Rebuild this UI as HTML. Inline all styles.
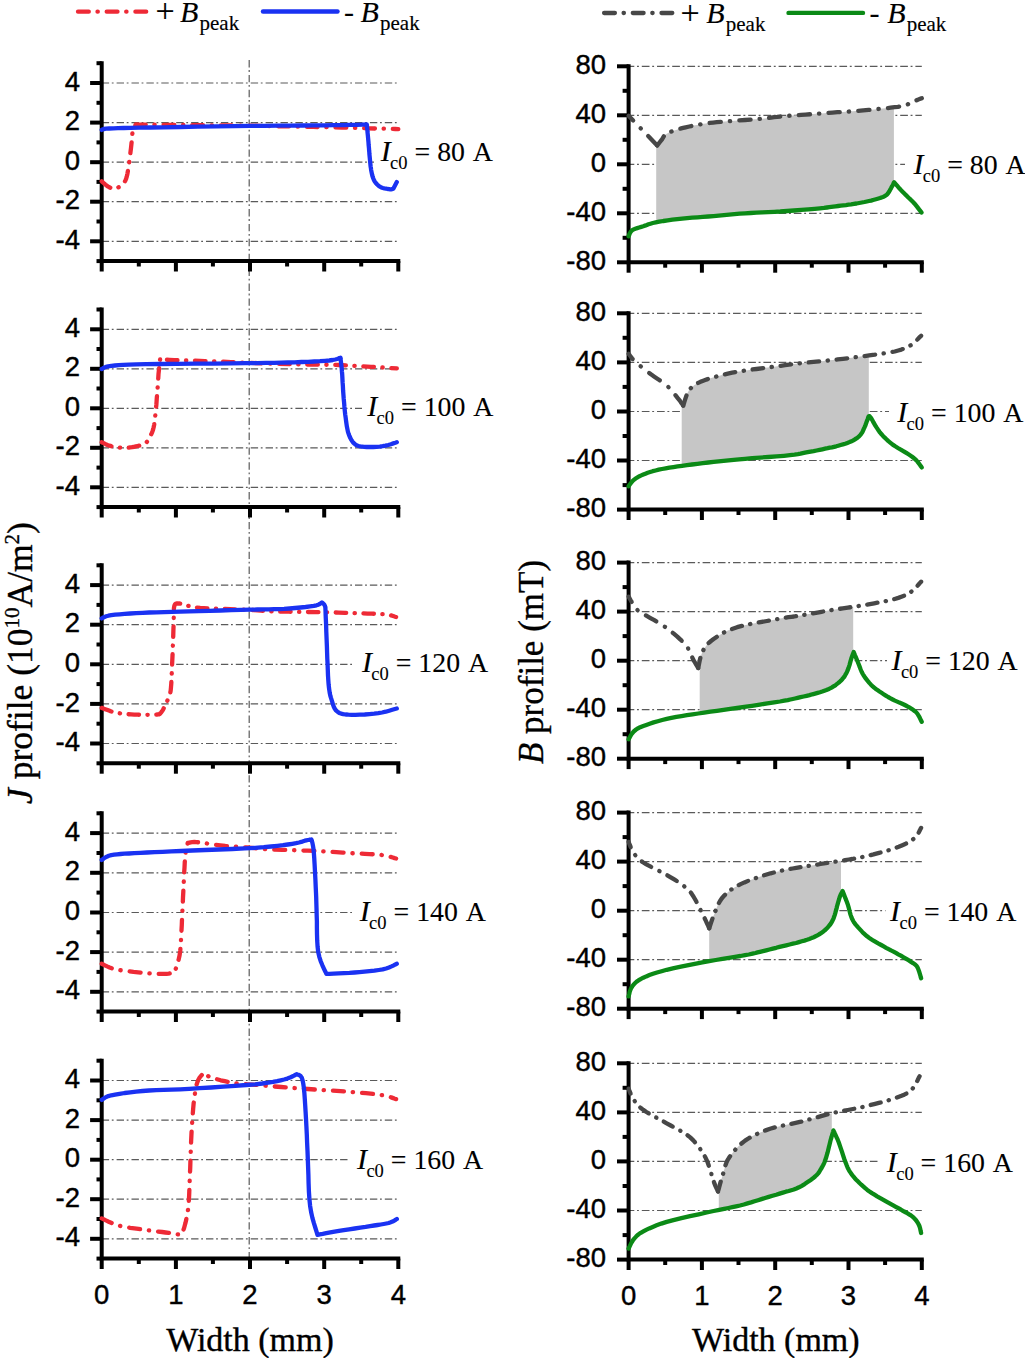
<!DOCTYPE html>
<html><head><meta charset="utf-8"><title>J and B profiles</title>
<style>html,body{margin:0;padding:0;background:#fff;width:1025px;height:1358px;overflow:hidden}svg{display:block}</style>
</head><body>
<svg width="1025" height="1358" viewBox="0 0 1025 1358">
<rect width="1025" height="1358" fill="#fff"/>
<g stroke="#5a5a5a" stroke-width="1.2" stroke-dasharray="7.4 2.7 1.8 3.0" fill="none">
<line x1="249.2" y1="60" x2="249.2" y2="1257"/>
<line x1="101.7" y1="83.0" x2="398.3" y2="83.0"/>
<line x1="101.7" y1="122.6" x2="398.3" y2="122.6"/>
<line x1="101.7" y1="162.2" x2="398.3" y2="162.2"/>
<line x1="101.7" y1="201.7" x2="398.3" y2="201.7"/>
<line x1="101.7" y1="241.3" x2="398.3" y2="241.3"/>
<line x1="101.7" y1="329.3" x2="398.3" y2="329.3"/>
<line x1="101.7" y1="368.8" x2="398.3" y2="368.8"/>
<line x1="101.7" y1="408.3" x2="398.3" y2="408.3"/>
<line x1="101.7" y1="447.8" x2="398.3" y2="447.8"/>
<line x1="101.7" y1="487.3" x2="398.3" y2="487.3"/>
<line x1="101.7" y1="585.1" x2="398.3" y2="585.1"/>
<line x1="101.7" y1="624.7" x2="398.3" y2="624.7"/>
<line x1="101.7" y1="664.3" x2="398.3" y2="664.3"/>
<line x1="101.7" y1="703.9" x2="398.3" y2="703.9"/>
<line x1="101.7" y1="743.5" x2="398.3" y2="743.5"/>
<line x1="101.7" y1="833.1" x2="398.3" y2="833.1"/>
<line x1="101.7" y1="872.8" x2="398.3" y2="872.8"/>
<line x1="101.7" y1="912.5" x2="398.3" y2="912.5"/>
<line x1="101.7" y1="952.1" x2="398.3" y2="952.1"/>
<line x1="101.7" y1="991.8" x2="398.3" y2="991.8"/>
<line x1="101.7" y1="1080.5" x2="398.3" y2="1080.5"/>
<line x1="101.7" y1="1120.1" x2="398.3" y2="1120.1"/>
<line x1="101.7" y1="1159.7" x2="398.3" y2="1159.7"/>
<line x1="101.7" y1="1199.2" x2="398.3" y2="1199.2"/>
<line x1="101.7" y1="1238.8" x2="398.3" y2="1238.8"/>
</g>
<g stroke="#5a5a5a" stroke-width="1.2" stroke-dasharray="7.7 2.7 1.9 2.9" fill="none">
<line x1="626.6" y1="66.3" x2="921.8" y2="66.3"/>
<line x1="626.6" y1="115.3" x2="921.8" y2="115.3"/>
<line x1="626.6" y1="164.3" x2="921.8" y2="164.3"/>
<line x1="626.6" y1="213.3" x2="921.8" y2="213.3"/>
<line x1="626.6" y1="313.3" x2="921.8" y2="313.3"/>
<line x1="626.6" y1="362.4" x2="921.8" y2="362.4"/>
<line x1="626.6" y1="411.5" x2="921.8" y2="411.5"/>
<line x1="626.6" y1="460.5" x2="921.8" y2="460.5"/>
<line x1="626.6" y1="562.6" x2="921.8" y2="562.6"/>
<line x1="626.6" y1="611.6" x2="921.8" y2="611.6"/>
<line x1="626.6" y1="660.7" x2="921.8" y2="660.7"/>
<line x1="626.6" y1="709.7" x2="921.8" y2="709.7"/>
<line x1="626.6" y1="812.6" x2="921.8" y2="812.6"/>
<line x1="626.6" y1="861.6" x2="921.8" y2="861.6"/>
<line x1="626.6" y1="910.7" x2="921.8" y2="910.7"/>
<line x1="626.6" y1="959.7" x2="921.8" y2="959.7"/>
<line x1="626.6" y1="1063.3" x2="921.8" y2="1063.3"/>
<line x1="626.6" y1="1112.4" x2="921.8" y2="1112.4"/>
<line x1="626.6" y1="1161.4" x2="921.8" y2="1161.4"/>
<line x1="626.6" y1="1210.5" x2="921.8" y2="1210.5"/>
</g>
<path d="M656.2,144.4 L657.2,145.4 L657.7,144.8 L658.3,144.0 L659.1,143.1 L659.9,142.0 L660.8,140.9 L661.6,139.9 L662.3,138.9 L662.9,137.9 L663.5,136.8 L664.2,135.7 L665.3,134.7 L666.7,133.7 L668.6,132.7 L670.8,131.8 L673.3,130.8 L676.0,129.9 L679.0,129.0 L682.1,128.2 L685.6,127.3 L689.3,126.5 L693.3,125.6 L697.4,124.9 L701.6,124.1 L705.6,123.5 L709.4,123.0 L713.1,122.6 L716.8,122.2 L720.6,121.9 L724.6,121.5 L729.0,121.2 L733.9,120.8 L739.4,120.4 L745.0,120.0 L750.6,119.6 L755.9,119.2 L760.5,118.9 L764.5,118.5 L768.0,118.0 L771.1,117.6 L774.1,117.2 L777.1,116.9 L780.3,116.5 L783.6,116.2 L786.7,116.0 L789.9,115.7 L793.2,115.5 L796.8,115.2 L800.9,114.9 L805.5,114.6 L810.6,114.2 L816.0,113.8 L821.5,113.4 L827.0,113.0 L832.4,112.6 L837.5,112.2 L842.7,111.9 L847.8,111.6 L852.9,111.2 L858.0,110.8 L863.2,110.4 L868.6,109.9 L874.3,109.4 L880.1,108.8 L885.6,108.3 L890.5,107.7 L893.9,107.3 L893.9,182.6 L893.7,183.0 L893.2,184.2 L892.5,185.5 L891.7,186.9 L891.0,188.3 L890.3,189.5 L889.7,190.6 L889.1,191.6 L888.6,192.5 L888.0,193.4 L887.3,194.3 L886.4,195.0 L885.4,195.7 L884.2,196.4 L882.9,196.9 L881.5,197.4 L880.1,198.0 L878.5,198.5 L876.8,199.0 L875.0,199.5 L873.1,200.0 L871.1,200.6 L869.0,201.0 L866.8,201.5 L864.5,202.0 L861.9,202.5 L859.3,203.0 L856.6,203.5 L853.9,203.9 L851.2,204.4 L848.6,204.7 L846.0,205.1 L843.4,205.4 L840.8,205.7 L838.2,206.0 L835.6,206.3 L833.3,206.6 L831.3,206.9 L829.3,207.2 L827.0,207.5 L824.0,207.9 L820.0,208.3 L814.7,208.8 L808.4,209.3 L801.4,209.9 L794.1,210.5 L787.0,211.0 L780.3,211.5 L774.2,211.8 L768.1,212.1 L762.2,212.4 L756.4,212.7 L750.7,213.0 L745.1,213.3 L739.7,213.7 L734.4,214.2 L729.2,214.7 L724.0,215.2 L718.8,215.7 L713.6,216.1 L708.3,216.5 L702.9,216.9 L697.5,217.3 L692.2,217.7 L687.1,218.1 L682.1,218.6 L677.3,219.1 L672.4,219.7 L667.7,220.4 L663.3,221.0 L659.3,221.7 L656.2,222.3 Z" fill="#c6c6c6"/>
<path d="M681.7,403.5 L682.0,403.8 L682.7,404.8 L683.2,405.6 L683.8,403.9 L684.5,401.5 L685.4,398.6 L686.4,395.7 L687.5,393.0 L688.7,390.7 L690.0,389.0 L691.4,387.5 L692.9,386.2 L694.5,385.0 L696.3,384.0 L698.2,382.9 L700.4,381.8 L702.6,380.9 L705.1,380.0 L707.7,379.1 L710.5,378.2 L713.6,377.3 L716.9,376.4 L720.3,375.5 L723.9,374.6 L727.8,373.7 L732.2,372.7 L737.1,371.8 L742.8,370.9 L749.4,369.9 L756.4,369.0 L763.4,368.1 L770.1,367.2 L775.9,366.4 L780.8,365.8 L785.0,365.2 L788.9,364.7 L792.6,364.2 L796.5,363.7 L800.9,363.2 L805.7,362.7 L810.9,362.2 L816.2,361.7 L821.6,361.2 L827.0,360.6 L832.4,360.0 L837.6,359.4 L842.9,358.8 L848.2,358.2 L853.4,357.5 L858.7,356.8 L863.9,356.1 L868.8,355.5 L868.8,416.3 L868.6,416.5 L868.3,417.2 L868.0,418.1 L867.7,419.2 L867.3,420.2 L866.9,421.1 L866.5,422.2 L866.1,423.4 L865.7,424.6 L865.2,425.9 L864.6,427.2 L864.0,428.4 L863.4,429.8 L862.8,431.2 L862.1,432.6 L861.2,433.9 L860.2,435.1 L859.1,436.3 L857.8,437.4 L856.4,438.4 L854.9,439.4 L853.3,440.4 L851.5,441.3 L849.6,442.1 L847.4,442.9 L845.2,443.7 L842.9,444.4 L840.6,445.0 L838.3,445.7 L836.2,446.3 L834.1,446.8 L832.0,447.3 L829.8,447.7 L827.6,448.2 L825.1,448.7 L822.4,449.3 L819.6,449.9 L816.6,450.5 L813.6,451.1 L810.6,451.6 L807.6,452.2 L805.0,452.7 L802.7,453.2 L800.5,453.7 L797.9,454.2 L794.5,454.7 L790.0,455.2 L784.0,455.8 L776.6,456.4 L768.4,457.0 L760.1,457.6 L752.2,458.2 L745.1,458.8 L739.1,459.3 L733.7,459.8 L728.6,460.3 L723.6,460.8 L718.7,461.3 L713.6,461.9 L708.3,462.5 L702.8,463.1 L697.4,463.8 L692.0,464.5 L686.9,465.1 L682.1,465.8 L681.7,465.9 Z" fill="#c6c6c6"/>
<path d="M699.7,660.7 L699.7,660.5 L700.5,657.3 L701.5,654.2 L702.6,651.5 L703.9,649.1 L705.3,647.0 L706.9,644.9 L708.8,642.9 L711.0,641.0 L713.6,639.0 L716.6,636.9 L719.8,634.9 L723.3,632.8 L727.3,630.8 L731.9,629.0 L737.1,627.2 L743.4,625.5 L750.9,623.9 L758.9,622.4 L766.9,621.0 L774.2,619.7 L780.3,618.6 L784.9,617.8 L788.4,617.2 L791.3,616.8 L794.0,616.5 L797.1,616.0 L800.9,615.4 L805.5,614.6 L810.6,613.7 L816.0,612.8 L821.5,611.8 L827.0,610.8 L832.4,609.9 L837.5,609.1 L842.7,608.4 L847.8,607.6 L852.9,606.9 L853.2,606.8 L853.2,653.4 L853.0,653.9 L852.5,655.1 L852.0,656.5 L851.5,657.9 L851.1,659.3 L850.7,660.7 L850.3,662.1 L849.9,663.6 L849.5,665.1 L849.0,666.6 L848.5,668.1 L847.9,669.6 L847.3,671.1 L846.6,672.7 L845.8,674.1 L845.0,675.6 L844.1,677.0 L843.1,678.2 L842.0,679.5 L840.9,680.7 L839.6,681.8 L838.4,682.9 L837.1,683.9 L835.8,684.9 L834.4,685.9 L833.1,686.7 L831.6,687.6 L830.0,688.4 L828.3,689.2 L826.4,690.0 L824.4,690.7 L822.2,691.5 L820.0,692.2 L817.6,692.9 L815.1,693.6 L812.4,694.3 L809.6,695.1 L806.6,695.8 L803.6,696.5 L800.6,697.2 L797.6,697.9 L795.0,698.5 L792.7,699.0 L790.4,699.5 L787.7,700.1 L784.4,700.7 L780.0,701.5 L774.2,702.4 L767.4,703.4 L759.8,704.6 L752.0,705.8 L744.3,706.9 L737.1,708.0 L730.3,708.9 L723.6,709.9 L716.9,710.8 L710.5,711.7 L704.2,712.6 L699.7,713.3 Z" fill="#c6c6c6"/>
<path d="M709.2,928.3 L709.7,927.0 L710.2,925.2 L710.9,923.1 L711.7,920.7 L712.6,918.2 L713.6,915.7 L714.7,913.0 L715.8,910.1 L717.0,907.1 L718.3,904.1 L719.9,901.2 L721.7,898.5 L723.7,896.1 L726.0,893.9 L728.4,891.7 L731.1,889.7 L734.0,887.8 L737.1,885.9 L740.6,884.1 L744.4,882.4 L748.5,880.7 L752.7,879.2 L756.7,877.8 L760.5,876.5 L764.0,875.3 L767.4,874.3 L770.6,873.3 L773.8,872.5 L777.0,871.7 L780.3,870.9 L783.5,870.2 L786.4,869.6 L789.4,869.1 L792.6,868.5 L796.3,867.9 L800.9,867.1 L806.5,866.2 L813.3,865.2 L820.5,864.0 L827.8,862.9 L834.6,861.8 L840.4,860.9 L841.0,860.8 L841.0,894.1 L840.5,895.1 L840.0,896.3 L839.5,897.7 L839.1,899.2 L838.6,900.8 L838.1,902.5 L837.6,904.3 L837.1,906.0 L836.7,907.8 L836.2,909.6 L835.7,911.5 L835.2,913.4 L834.7,915.1 L834.1,916.8 L833.6,918.3 L833.0,919.6 L832.4,920.9 L831.7,922.1 L831.0,923.3 L830.2,924.5 L829.2,925.7 L828.2,926.9 L827.2,928.0 L826.0,929.2 L824.8,930.3 L823.4,931.4 L822.0,932.4 L820.6,933.4 L819.1,934.4 L817.4,935.4 L815.6,936.3 L813.7,937.2 L811.6,938.1 L809.3,939.0 L807.0,939.8 L804.4,940.6 L801.8,941.3 L799.0,942.1 L796.1,943.0 L792.9,943.7 L789.6,944.5 L786.2,945.3 L782.8,946.1 L779.5,946.9 L776.2,947.8 L772.9,948.6 L769.5,949.5 L766.2,950.3 L763.0,951.1 L760.0,951.8 L757.5,952.4 L755.5,953.0 L753.6,953.4 L751.5,953.9 L748.8,954.5 L745.1,955.1 L740.5,956.0 L735.0,956.8 L728.9,957.8 L722.5,958.8 L715.8,960.0 L709.2,961.1 Z" fill="#c6c6c6"/>
<path d="M718.8,1188.8 L719.3,1186.7 L720.2,1183.4 L721.2,1179.9 L722.2,1176.4 L723.2,1173.4 L724.0,1170.6 L724.7,1168.0 L725.4,1165.5 L726.3,1163.0 L727.4,1160.4 L729.0,1157.8 L731.0,1154.9 L733.3,1152.0 L735.9,1148.9 L738.7,1146.0 L741.8,1143.2 L745.1,1140.6 L748.7,1138.3 L752.6,1136.1 L756.7,1134.1 L761.0,1132.2 L765.5,1130.4 L770.1,1128.8 L774.9,1127.4 L779.9,1126.2 L785.0,1125.1 L790.3,1124.0 L795.6,1122.9 L800.9,1121.7 L806.1,1120.3 L811.3,1118.9 L816.6,1117.4 L821.9,1115.9 L827.2,1114.4 L831.8,1113.3 L831.8,1136.1 L831.4,1137.5 L830.7,1139.8 L830.1,1142.2 L829.5,1144.7 L828.8,1147.5 L828.1,1150.4 L827.4,1153.2 L826.6,1155.9 L825.9,1158.3 L825.2,1160.3 L824.6,1162.0 L823.9,1163.6 L823.2,1165.0 L822.4,1166.5 L821.6,1168.0 L820.7,1169.4 L819.9,1170.8 L819.1,1172.2 L818.0,1173.6 L816.7,1175.0 L815.1,1176.5 L813.0,1178.3 L810.4,1180.2 L807.6,1182.1 L804.7,1184.1 L801.8,1185.8 L799.0,1187.3 L796.4,1188.5 L793.8,1189.5 L791.3,1190.2 L788.7,1191.0 L785.9,1191.7 L782.9,1192.6 L779.6,1193.6 L776.2,1194.7 L772.5,1195.8 L768.8,1196.9 L765.1,1198.0 L761.5,1199.1 L758.0,1200.2 L754.5,1201.3 L751.1,1202.4 L747.5,1203.4 L743.9,1204.5 L740.0,1205.5 L736.1,1206.4 L732.3,1207.2 L728.4,1208.0 L724.1,1208.8 L719.3,1209.8 L718.8,1209.9 Z" fill="#c6c6c6"/>
<rect x="374.0" y="136.7" width="124.0" height="33.0" fill="#fff"/>
<rect x="905.0" y="150.0" width="120.0" height="33.0" fill="#fff"/>
<rect x="362.0" y="392.4" width="136.0" height="33.0" fill="#fff"/>
<rect x="889.0" y="398.2" width="136.0" height="33.0" fill="#fff"/>
<rect x="354.3" y="647.5" width="143.7" height="33.0" fill="#fff"/>
<rect x="887.0" y="646.4" width="138.0" height="33.0" fill="#fff"/>
<rect x="354.3" y="897.0" width="143.7" height="33.0" fill="#fff"/>
<rect x="885.5" y="897.1" width="139.5" height="33.0" fill="#fff"/>
<rect x="349.6" y="1144.7" width="148.4" height="33.0" fill="#fff"/>
<rect x="879.3" y="1147.8" width="145.7" height="33.0" fill="#fff"/>
<g stroke="#000" stroke-width="4.0" fill="none" stroke-linecap="square">
<path d="M101.7,63.2 V261.1 M101.7,261.1 H398.3"/>
<path d="M96.5,261.1 H101.7" stroke-linecap="butt"/>
<path d="M90.1,241.3 H101.7" stroke-linecap="butt"/>
<path d="M96.5,221.5 H101.7" stroke-linecap="butt"/>
<path d="M90.1,201.7 H101.7" stroke-linecap="butt"/>
<path d="M96.5,181.9 H101.7" stroke-linecap="butt"/>
<path d="M90.1,162.2 H101.7" stroke-linecap="butt"/>
<path d="M96.5,142.4 H101.7" stroke-linecap="butt"/>
<path d="M90.1,122.6 H101.7" stroke-linecap="butt"/>
<path d="M96.5,102.8 H101.7" stroke-linecap="butt"/>
<path d="M90.1,83.0 H101.7" stroke-linecap="butt"/>
<path d="M96.5,63.2 H101.7" stroke-linecap="butt"/>
<path d="M101.7,261.1 V271.5" stroke-linecap="butt"/>
<path d="M138.8,261.1 V266.5" stroke-linecap="butt"/>
<path d="M175.9,261.1 V271.5" stroke-linecap="butt"/>
<path d="M212.9,261.1 V266.5" stroke-linecap="butt"/>
<path d="M250.0,261.1 V271.5" stroke-linecap="butt"/>
<path d="M287.1,261.1 V266.5" stroke-linecap="butt"/>
<path d="M324.2,261.1 V271.5" stroke-linecap="butt"/>
<path d="M361.2,261.1 V266.5" stroke-linecap="butt"/>
<path d="M398.3,261.1 V271.5" stroke-linecap="butt"/>
<path d="M101.7,309.5 V507.1 M101.7,507.1 H398.3"/>
<path d="M96.5,507.1 H101.7" stroke-linecap="butt"/>
<path d="M90.1,487.3 H101.7" stroke-linecap="butt"/>
<path d="M96.5,467.6 H101.7" stroke-linecap="butt"/>
<path d="M90.1,447.8 H101.7" stroke-linecap="butt"/>
<path d="M96.5,428.1 H101.7" stroke-linecap="butt"/>
<path d="M90.1,408.3 H101.7" stroke-linecap="butt"/>
<path d="M96.5,388.5 H101.7" stroke-linecap="butt"/>
<path d="M90.1,368.8 H101.7" stroke-linecap="butt"/>
<path d="M96.5,349.0 H101.7" stroke-linecap="butt"/>
<path d="M90.1,329.3 H101.7" stroke-linecap="butt"/>
<path d="M96.5,309.5 H101.7" stroke-linecap="butt"/>
<path d="M101.7,507.1 V517.5" stroke-linecap="butt"/>
<path d="M138.8,507.1 V512.5" stroke-linecap="butt"/>
<path d="M175.9,507.1 V517.5" stroke-linecap="butt"/>
<path d="M212.9,507.1 V512.5" stroke-linecap="butt"/>
<path d="M250.0,507.1 V517.5" stroke-linecap="butt"/>
<path d="M287.1,507.1 V512.5" stroke-linecap="butt"/>
<path d="M324.2,507.1 V517.5" stroke-linecap="butt"/>
<path d="M361.2,507.1 V512.5" stroke-linecap="butt"/>
<path d="M398.3,507.1 V517.5" stroke-linecap="butt"/>
<path d="M101.7,565.3 V763.3 M101.7,763.3 H398.3"/>
<path d="M96.5,763.3 H101.7" stroke-linecap="butt"/>
<path d="M90.1,743.5 H101.7" stroke-linecap="butt"/>
<path d="M96.5,723.7 H101.7" stroke-linecap="butt"/>
<path d="M90.1,703.9 H101.7" stroke-linecap="butt"/>
<path d="M96.5,684.1 H101.7" stroke-linecap="butt"/>
<path d="M90.1,664.3 H101.7" stroke-linecap="butt"/>
<path d="M96.5,644.5 H101.7" stroke-linecap="butt"/>
<path d="M90.1,624.7 H101.7" stroke-linecap="butt"/>
<path d="M96.5,604.9 H101.7" stroke-linecap="butt"/>
<path d="M90.1,585.1 H101.7" stroke-linecap="butt"/>
<path d="M96.5,565.3 H101.7" stroke-linecap="butt"/>
<path d="M101.7,763.3 V773.7" stroke-linecap="butt"/>
<path d="M138.8,763.3 V768.7" stroke-linecap="butt"/>
<path d="M175.9,763.3 V773.7" stroke-linecap="butt"/>
<path d="M212.9,763.3 V768.7" stroke-linecap="butt"/>
<path d="M250.0,763.3 V773.7" stroke-linecap="butt"/>
<path d="M287.1,763.3 V768.7" stroke-linecap="butt"/>
<path d="M324.2,763.3 V773.7" stroke-linecap="butt"/>
<path d="M361.2,763.3 V768.7" stroke-linecap="butt"/>
<path d="M398.3,763.3 V773.7" stroke-linecap="butt"/>
<path d="M101.7,813.3 V1011.6 M101.7,1011.6 H398.3"/>
<path d="M96.5,1011.6 H101.7" stroke-linecap="butt"/>
<path d="M90.1,991.8 H101.7" stroke-linecap="butt"/>
<path d="M96.5,971.9 H101.7" stroke-linecap="butt"/>
<path d="M90.1,952.1 H101.7" stroke-linecap="butt"/>
<path d="M96.5,932.3 H101.7" stroke-linecap="butt"/>
<path d="M90.1,912.5 H101.7" stroke-linecap="butt"/>
<path d="M96.5,892.6 H101.7" stroke-linecap="butt"/>
<path d="M90.1,872.8 H101.7" stroke-linecap="butt"/>
<path d="M96.5,853.0 H101.7" stroke-linecap="butt"/>
<path d="M90.1,833.1 H101.7" stroke-linecap="butt"/>
<path d="M96.5,813.3 H101.7" stroke-linecap="butt"/>
<path d="M101.7,1011.6 V1022.0" stroke-linecap="butt"/>
<path d="M138.8,1011.6 V1017.0" stroke-linecap="butt"/>
<path d="M175.9,1011.6 V1022.0" stroke-linecap="butt"/>
<path d="M212.9,1011.6 V1017.0" stroke-linecap="butt"/>
<path d="M250.0,1011.6 V1022.0" stroke-linecap="butt"/>
<path d="M287.1,1011.6 V1017.0" stroke-linecap="butt"/>
<path d="M324.2,1011.6 V1022.0" stroke-linecap="butt"/>
<path d="M361.2,1011.6 V1017.0" stroke-linecap="butt"/>
<path d="M398.3,1011.6 V1022.0" stroke-linecap="butt"/>
<path d="M101.7,1060.7 V1258.6 M101.7,1258.6 H398.3"/>
<path d="M96.5,1258.6 H101.7" stroke-linecap="butt"/>
<path d="M90.1,1238.8 H101.7" stroke-linecap="butt"/>
<path d="M96.5,1219.0 H101.7" stroke-linecap="butt"/>
<path d="M90.1,1199.2 H101.7" stroke-linecap="butt"/>
<path d="M96.5,1179.4 H101.7" stroke-linecap="butt"/>
<path d="M90.1,1159.7 H101.7" stroke-linecap="butt"/>
<path d="M96.5,1139.9 H101.7" stroke-linecap="butt"/>
<path d="M90.1,1120.1 H101.7" stroke-linecap="butt"/>
<path d="M96.5,1100.3 H101.7" stroke-linecap="butt"/>
<path d="M90.1,1080.5 H101.7" stroke-linecap="butt"/>
<path d="M96.5,1060.7 H101.7" stroke-linecap="butt"/>
<path d="M101.7,1258.6 V1269.0" stroke-linecap="butt"/>
<path d="M138.8,1258.6 V1264.0" stroke-linecap="butt"/>
<path d="M175.9,1258.6 V1269.0" stroke-linecap="butt"/>
<path d="M212.9,1258.6 V1264.0" stroke-linecap="butt"/>
<path d="M250.0,1258.6 V1269.0" stroke-linecap="butt"/>
<path d="M287.1,1258.6 V1264.0" stroke-linecap="butt"/>
<path d="M324.2,1258.6 V1269.0" stroke-linecap="butt"/>
<path d="M361.2,1258.6 V1264.0" stroke-linecap="butt"/>
<path d="M398.3,1258.6 V1269.0" stroke-linecap="butt"/>
<path d="M628.6,66.3 V262.3 M628.6,262.3 H921.8"/>
<path d="M617.0,262.3 H628.6" stroke-linecap="butt"/>
<path d="M622.6,237.8 H628.6" stroke-linecap="butt"/>
<path d="M617.0,213.3 H628.6" stroke-linecap="butt"/>
<path d="M622.6,188.8 H628.6" stroke-linecap="butt"/>
<path d="M617.0,164.3 H628.6" stroke-linecap="butt"/>
<path d="M622.6,139.8 H628.6" stroke-linecap="butt"/>
<path d="M617.0,115.3 H628.6" stroke-linecap="butt"/>
<path d="M622.6,90.8 H628.6" stroke-linecap="butt"/>
<path d="M617.0,66.3 H628.6" stroke-linecap="butt"/>
<path d="M628.6,262.3 V272.7" stroke-linecap="butt"/>
<path d="M665.2,262.3 V267.7" stroke-linecap="butt"/>
<path d="M701.9,262.3 V272.7" stroke-linecap="butt"/>
<path d="M738.5,262.3 V267.7" stroke-linecap="butt"/>
<path d="M775.2,262.3 V272.7" stroke-linecap="butt"/>
<path d="M811.8,262.3 V267.7" stroke-linecap="butt"/>
<path d="M848.5,262.3 V272.7" stroke-linecap="butt"/>
<path d="M885.1,262.3 V267.7" stroke-linecap="butt"/>
<path d="M921.8,262.3 V272.7" stroke-linecap="butt"/>
<path d="M628.6,313.3 V509.6 M628.6,509.6 H921.8"/>
<path d="M617.0,509.6 H628.6" stroke-linecap="butt"/>
<path d="M622.6,485.1 H628.6" stroke-linecap="butt"/>
<path d="M617.0,460.5 H628.6" stroke-linecap="butt"/>
<path d="M622.6,436.0 H628.6" stroke-linecap="butt"/>
<path d="M617.0,411.5 H628.6" stroke-linecap="butt"/>
<path d="M622.6,386.9 H628.6" stroke-linecap="butt"/>
<path d="M617.0,362.4 H628.6" stroke-linecap="butt"/>
<path d="M622.6,337.8 H628.6" stroke-linecap="butt"/>
<path d="M617.0,313.3 H628.6" stroke-linecap="butt"/>
<path d="M628.6,509.6 V520.0" stroke-linecap="butt"/>
<path d="M665.2,509.6 V515.0" stroke-linecap="butt"/>
<path d="M701.9,509.6 V520.0" stroke-linecap="butt"/>
<path d="M738.5,509.6 V515.0" stroke-linecap="butt"/>
<path d="M775.2,509.6 V520.0" stroke-linecap="butt"/>
<path d="M811.8,509.6 V515.0" stroke-linecap="butt"/>
<path d="M848.5,509.6 V520.0" stroke-linecap="butt"/>
<path d="M885.1,509.6 V515.0" stroke-linecap="butt"/>
<path d="M921.8,509.6 V520.0" stroke-linecap="butt"/>
<path d="M628.6,562.6 V758.7 M628.6,758.7 H921.8"/>
<path d="M617.0,758.7 H628.6" stroke-linecap="butt"/>
<path d="M622.6,734.2 H628.6" stroke-linecap="butt"/>
<path d="M617.0,709.7 H628.6" stroke-linecap="butt"/>
<path d="M622.6,685.2 H628.6" stroke-linecap="butt"/>
<path d="M617.0,660.7 H628.6" stroke-linecap="butt"/>
<path d="M622.6,636.1 H628.6" stroke-linecap="butt"/>
<path d="M617.0,611.6 H628.6" stroke-linecap="butt"/>
<path d="M622.6,587.1 H628.6" stroke-linecap="butt"/>
<path d="M617.0,562.6 H628.6" stroke-linecap="butt"/>
<path d="M628.6,758.7 V769.1" stroke-linecap="butt"/>
<path d="M665.2,758.7 V764.1" stroke-linecap="butt"/>
<path d="M701.9,758.7 V769.1" stroke-linecap="butt"/>
<path d="M738.5,758.7 V764.1" stroke-linecap="butt"/>
<path d="M775.2,758.7 V769.1" stroke-linecap="butt"/>
<path d="M811.8,758.7 V764.1" stroke-linecap="butt"/>
<path d="M848.5,758.7 V769.1" stroke-linecap="butt"/>
<path d="M885.1,758.7 V764.1" stroke-linecap="butt"/>
<path d="M921.8,758.7 V769.1" stroke-linecap="butt"/>
<path d="M628.6,812.6 V1008.7 M628.6,1008.7 H921.8"/>
<path d="M617.0,1008.7 H628.6" stroke-linecap="butt"/>
<path d="M622.6,984.2 H628.6" stroke-linecap="butt"/>
<path d="M617.0,959.7 H628.6" stroke-linecap="butt"/>
<path d="M622.6,935.2 H628.6" stroke-linecap="butt"/>
<path d="M617.0,910.7 H628.6" stroke-linecap="butt"/>
<path d="M622.6,886.1 H628.6" stroke-linecap="butt"/>
<path d="M617.0,861.6 H628.6" stroke-linecap="butt"/>
<path d="M622.6,837.1 H628.6" stroke-linecap="butt"/>
<path d="M617.0,812.6 H628.6" stroke-linecap="butt"/>
<path d="M628.6,1008.7 V1019.1" stroke-linecap="butt"/>
<path d="M665.2,1008.7 V1014.1" stroke-linecap="butt"/>
<path d="M701.9,1008.7 V1019.1" stroke-linecap="butt"/>
<path d="M738.5,1008.7 V1014.1" stroke-linecap="butt"/>
<path d="M775.2,1008.7 V1019.1" stroke-linecap="butt"/>
<path d="M811.8,1008.7 V1014.1" stroke-linecap="butt"/>
<path d="M848.5,1008.7 V1019.1" stroke-linecap="butt"/>
<path d="M885.1,1008.7 V1014.1" stroke-linecap="butt"/>
<path d="M921.8,1008.7 V1019.1" stroke-linecap="butt"/>
<path d="M628.6,1063.3 V1259.6 M628.6,1259.6 H921.8"/>
<path d="M617.0,1259.6 H628.6" stroke-linecap="butt"/>
<path d="M622.6,1235.1 H628.6" stroke-linecap="butt"/>
<path d="M617.0,1210.5 H628.6" stroke-linecap="butt"/>
<path d="M622.6,1186.0 H628.6" stroke-linecap="butt"/>
<path d="M617.0,1161.4 H628.6" stroke-linecap="butt"/>
<path d="M622.6,1136.9 H628.6" stroke-linecap="butt"/>
<path d="M617.0,1112.4 H628.6" stroke-linecap="butt"/>
<path d="M622.6,1087.8 H628.6" stroke-linecap="butt"/>
<path d="M617.0,1063.3 H628.6" stroke-linecap="butt"/>
<path d="M628.6,1259.6 V1270.0" stroke-linecap="butt"/>
<path d="M665.2,1259.6 V1265.0" stroke-linecap="butt"/>
<path d="M701.9,1259.6 V1270.0" stroke-linecap="butt"/>
<path d="M738.5,1259.6 V1265.0" stroke-linecap="butt"/>
<path d="M775.2,1259.6 V1270.0" stroke-linecap="butt"/>
<path d="M811.8,1259.6 V1265.0" stroke-linecap="butt"/>
<path d="M848.5,1259.6 V1270.0" stroke-linecap="butt"/>
<path d="M885.1,1259.6 V1265.0" stroke-linecap="butt"/>
<path d="M921.8,1259.6 V1270.0" stroke-linecap="butt"/>
</g>
<path d="M101.7,181.3 L102.3,181.9 L103.2,182.7 L104.3,183.6 L105.4,184.6 L106.6,185.5 L107.6,186.3 L108.7,186.9 L109.8,187.5 L111.0,188.0 L112.0,188.4 L112.9,188.8 L113.6,189.1 L114.3,188.8 L115.3,188.5 L116.6,188.1 L117.9,187.6 L119.1,187.0 L120.2,186.3 L121.2,185.6 L122.2,184.8 L123.1,183.9 L123.9,182.9 L124.7,181.7 L125.4,180.4 L126.1,178.8 L126.6,177.2 L127.1,175.3 L127.5,173.3 L127.9,170.9 L128.4,168.1 L128.9,164.7 L129.4,160.7 L130.0,156.3 L130.5,151.9 L131.0,147.9 L131.4,144.3 L131.7,141.4 L131.9,138.7 L132.1,136.3 L132.3,134.2 L132.5,132.2 L132.8,130.5 L133.3,129.0 L133.8,127.7 L134.4,126.7 L135.0,125.8 L135.5,125.1 L135.8,124.5 L139.8,124.6 L144.9,124.6 L151.2,124.7 L158.5,124.8 L166.7,124.9 L175.9,124.9 L186.2,125.0 L198.0,125.2 L210.8,125.3 L224.0,125.4 L237.2,125.6 L250.0,125.7 L262.7,125.9 L275.8,126.2 L288.9,126.4 L301.6,126.7 L313.5,126.9 L324.2,127.1 L333.5,127.3 L341.7,127.5 L349.2,127.8 L356.0,127.9 L362.4,128.1 L368.6,128.3 L374.8,128.5 L380.7,128.6 L386.3,128.8 L391.2,128.9 L395.2,129.0 L398.3,129.1" fill="none" stroke="#ee2a36" stroke-width="4.3" stroke-dasharray="10.78 8.69 0.30 8.89" stroke-linecap="round" stroke-linejoin="round"/>
<path d="M101.7,129.9 L102.1,129.7 L102.4,129.5 L102.9,129.3 L103.9,129.0 L105.9,128.7 L109.1,128.5 L113.3,128.3 L118.0,128.2 L123.7,128.0 L130.7,127.9 L139.3,127.7 L149.9,127.5 L163.4,127.3 L179.8,127.0 L197.9,126.7 L216.4,126.4 L234.1,126.1 L250.0,125.9 L264.2,125.8 L277.8,125.7 L290.7,125.6 L302.7,125.5 L313.9,125.4 L324.2,125.3 L333.6,125.2 L342.3,125.1 L350.1,124.9 L356.9,124.8 L362.5,124.6 L366.8,124.5 L366.9,125.3 L367.0,126.3 L367.1,127.5 L367.2,128.9 L367.4,130.4 L367.5,132.1 L367.7,133.9 L367.9,135.9 L368.1,138.1 L368.3,140.3 L368.5,142.5 L368.6,144.5 L368.8,146.5 L369.0,148.4 L369.1,150.3 L369.3,152.2 L369.4,154.1 L369.6,156.0 L369.8,158.0 L370.0,160.1 L370.2,162.2 L370.4,164.3 L370.6,166.3 L370.9,168.1 L371.1,169.8 L371.4,171.3 L371.7,172.8 L372.0,174.2 L372.3,175.5 L372.7,176.8 L373.1,178.0 L373.5,179.0 L373.9,180.0 L374.4,180.9 L374.9,181.8 L375.6,182.7 L376.4,183.6 L377.2,184.5 L378.2,185.4 L379.2,186.2 L380.3,186.9 L381.5,187.5 L382.8,188.0 L384.4,188.4 L386.1,188.7 L387.7,189.0 L389.1,189.1 L390.3,189.3 L391.2,189.3 L391.8,189.2 L392.4,189.1 L392.8,188.9 L393.1,188.8 L393.3,188.7 L396.8,182.1" fill="none" stroke="#1a32f2" stroke-width="4.3" stroke-linejoin="round" stroke-linecap="round"/>
<path d="M101.7,442.3 L102.7,442.7 L104.1,443.4 L105.7,444.2 L107.5,445.0 L109.4,445.7 L111.3,446.2 L113.3,446.7 L115.3,447.1 L117.5,447.4 L119.7,447.6 L121.9,447.8 L123.9,447.8 L126.0,447.8 L128.0,447.7 L130.1,447.4 L132.0,447.2 L134.0,446.8 L135.8,446.4 L137.6,446.0 L139.4,445.6 L141.1,445.1 L142.7,444.5 L144.2,443.8 L145.4,443.1 L146.5,442.3 L147.3,441.4 L148.0,440.4 L148.7,439.3 L149.3,438.2 L149.9,437.0 L150.6,435.7 L151.2,434.3 L151.9,432.9 L152.5,431.3 L153.1,429.5 L153.6,427.5 L154.1,425.1 L154.5,422.4 L154.9,419.5 L155.2,416.4 L155.5,413.3 L155.8,410.3 L156.1,407.3 L156.4,404.2 L156.6,401.1 L156.8,397.9 L157.1,394.7 L157.3,391.5 L157.6,388.1 L157.8,384.6 L158.1,381.0 L158.3,377.5 L158.5,374.1 L158.8,371.2 L159.1,368.4 L159.3,365.8 L159.6,363.4 L159.9,361.2 L160.1,359.4 L160.3,358.1 L160.4,358.3 L160.4,358.5 L160.4,358.8 L161.0,359.1 L162.6,359.4 L165.5,359.7 L169.5,359.9 L174.4,360.1 L180.2,360.3 L187.1,360.5 L195.2,360.7 L204.8,361.1 L216.6,361.5 L230.9,362.1 L246.4,362.7 L262.0,363.3 L276.7,363.8 L289.3,364.2 L299.5,364.5 L308.1,364.6 L315.8,364.6 L323.1,364.7 L330.6,364.8 L339.0,365.0 L348.8,365.5 L359.8,366.1 L371.0,366.8 L381.5,367.4 L390.4,368.0 L396.8,368.4" fill="none" stroke="#ee2a36" stroke-width="4.3" stroke-dasharray="10.57 8.51 0.29 8.71" stroke-linecap="round" stroke-linejoin="round"/>
<path d="M101.7,369.0 L102.5,368.6 L103.3,368.1 L104.3,367.5 L105.9,366.9 L108.2,366.3 L111.3,365.8 L114.9,365.5 L118.7,365.2 L123.2,364.9 L128.9,364.7 L136.4,364.4 L146.2,364.2 L159.6,364.0 L176.4,363.9 L195.0,363.7 L213.8,363.6 L231.2,363.4 L245.6,363.2 L256.8,363.1 L266.1,362.9 L274.1,362.8 L281.1,362.6 L287.7,362.5 L294.5,362.3 L301.4,362.0 L308.0,361.8 L314.3,361.5 L320.0,361.2 L325.1,360.8 L329.3,360.5 L332.7,360.0 L335.2,359.5 L337.1,359.0 L338.5,358.5 L339.5,358.0 L340.5,357.7 L340.6,359.1 L340.8,360.8 L341.1,363.0 L341.4,365.4 L341.7,368.2 L341.9,371.2 L342.2,374.5 L342.4,378.2 L342.6,382.2 L342.9,386.3 L343.1,390.5 L343.4,394.5 L343.7,398.5 L344.1,402.6 L344.4,406.7 L344.8,410.7 L345.2,414.5 L345.7,418.0 L346.1,421.1 L346.5,424.0 L346.9,426.7 L347.4,429.2 L347.9,431.6 L348.6,433.8 L349.4,435.9 L350.2,437.8 L351.2,439.6 L352.2,441.2 L353.3,442.7 L354.6,443.9 L355.8,444.8 L357.2,445.5 L358.6,446.0 L360.2,446.4 L362.0,446.6 L364.2,446.8 L366.8,447.0 L369.9,447.0 L373.2,447.0 L376.5,446.8 L379.8,446.6 L382.7,446.2 L385.5,445.7 L388.3,445.0 L390.9,444.2 L393.3,443.4 L395.3,442.8 L396.8,442.3" fill="none" stroke="#1a32f2" stroke-width="4.3" stroke-linejoin="round" stroke-linecap="round"/>
<path d="M101.7,707.9 L103.2,708.4 L105.2,709.2 L107.6,710.1 L110.2,711.1 L113.0,711.9 L115.8,712.6 L118.6,713.1 L121.6,713.6 L124.6,713.9 L127.8,714.2 L131.1,714.4 L134.3,714.6 L137.8,714.7 L141.6,714.8 L145.5,714.8 L149.2,714.8 L152.5,714.7 L155.1,714.6 L156.9,714.5 L158.2,714.4 L159.0,714.3 L159.6,714.0 L160.2,713.5 L161.0,712.6 L162.0,711.3 L163.1,709.6 L164.1,707.6 L165.1,705.6 L166.1,703.5 L167.0,701.5 L167.7,699.9 L168.4,698.4 L169.1,696.9 L169.7,695.2 L170.2,693.2 L170.7,690.4 L171.0,687.1 L171.3,683.3 L171.5,679.1 L171.7,674.6 L171.9,669.6 L172.1,664.3 L172.4,658.2 L172.7,651.3 L172.9,644.1 L173.2,636.9 L173.4,630.3 L173.6,624.7 L173.7,620.1 L173.8,616.2 L173.8,612.9 L173.8,610.0 L174.0,607.6 L174.4,605.7 L175.0,604.3 L176.0,603.6 L177.0,603.4 L178.0,603.5 L178.9,603.6 L179.6,603.5 L181.3,604.0 L183.7,604.6 L186.6,605.4 L189.8,606.2 L193.2,606.9 L196.6,607.5 L200.1,607.9 L203.8,608.1 L207.7,608.4 L211.7,608.5 L216.0,608.7 L220.3,608.9 L225.0,609.0 L230.0,609.2 L235.2,609.3 L240.3,609.5 L245.3,609.7 L250.0,609.8 L254.0,610.1 L257.4,610.4 L260.6,610.7 L264.1,610.9 L268.3,611.2 L273.7,611.4 L280.7,611.6 L289.0,611.7 L298.0,611.9 L307.2,612.0 L316.1,612.1 L324.2,612.2 L331.4,612.4 L338.5,612.6 L345.1,612.8 L351.4,613.0 L357.3,613.2 L362.7,613.4 L367.6,613.6 L372.0,613.7 L376.0,613.8 L379.5,614.0 L382.8,614.1 L385.7,614.4 L388.3,614.8 L390.5,615.2 L392.3,615.8 L393.9,616.3 L395.1,616.7 L396.1,617.0" fill="none" stroke="#ee2a36" stroke-width="4.3" stroke-dasharray="10.45 8.42 0.29 8.61" stroke-linecap="round" stroke-linejoin="round"/>
<path d="M101.7,618.4 L102.5,618.0 L103.4,617.5 L104.6,616.9 L106.2,616.3 L108.4,615.7 L111.3,615.2 L115.1,614.7 L119.6,614.3 L124.6,613.9 L130.2,613.5 L136.1,613.1 L142.5,612.8 L149.2,612.5 L156.4,612.3 L164.0,612.1 L172.0,611.9 L180.4,611.7 L189.2,611.4 L198.8,611.1 L209.4,610.8 L220.4,610.5 L231.2,610.2 L241.2,609.9 L250.0,609.7 L257.3,609.5 L263.5,609.4 L269.0,609.3 L274.1,609.2 L279.0,609.1 L284.1,608.9 L289.6,608.5 L295.1,608.0 L300.6,607.5 L305.6,607.0 L310.1,606.4 L313.8,605.9 L316.5,605.3 L318.4,604.7 L319.7,604.0 L320.6,603.4 L321.3,602.9 L321.9,602.5 L322.3,602.8 L322.8,603.2 L323.4,603.7 L324.0,604.3 L324.5,605.0 L324.9,605.9 L325.1,606.6 L325.3,607.0 L325.4,607.5 L325.4,608.5 L325.5,610.5 L325.6,613.6 L325.8,618.4 L326.1,624.6 L326.3,631.7 L326.6,639.2 L326.9,646.4 L327.1,652.8 L327.3,658.7 L327.6,664.5 L327.8,670.0 L328.0,675.3 L328.3,680.1 L328.6,684.3 L329.0,687.9 L329.4,690.8 L329.8,693.3 L330.3,695.6 L330.9,697.7 L331.6,699.9 L332.3,702.2 L333.0,704.5 L333.8,706.7 L334.8,708.7 L336.0,710.4 L337.5,711.8 L339.2,712.9 L341.1,713.6 L343.2,714.1 L345.7,714.5 L348.4,714.7 L351.6,714.8 L355.4,714.8 L359.9,714.7 L364.7,714.5 L369.5,714.1 L374.2,713.7 L378.3,713.2 L382.1,712.5 L385.7,711.7 L389.2,710.7 L392.3,709.8 L394.9,709.0 L396.8,708.5" fill="none" stroke="#1a32f2" stroke-width="4.3" stroke-linejoin="round" stroke-linecap="round"/>
<path d="M101.7,963.8 L103.1,964.4 L104.9,965.3 L107.1,966.4 L109.6,967.5 L112.5,968.5 L115.8,969.4 L119.6,970.1 L123.9,970.7 L128.7,971.3 L133.5,971.9 L138.2,972.3 L142.5,972.7 L146.5,973.1 L150.4,973.4 L154.3,973.6 L157.8,973.8 L161.1,973.9 L164.0,973.9 L166.5,973.8 L168.7,973.6 L170.5,973.3 L172.1,973.0 L173.4,972.7 L174.4,972.5 L174.6,971.9 L174.9,971.1 L175.3,970.0 L175.7,968.9 L176.2,967.6 L176.6,966.2 L177.1,964.7 L177.6,963.1 L178.1,961.3 L178.7,959.4 L179.1,957.4 L179.6,955.3 L179.9,953.1 L180.2,951.0 L180.4,948.7 L180.6,946.2 L180.8,943.2 L181.0,939.6 L181.3,935.3 L181.5,930.3 L181.8,924.8 L182.0,919.2 L182.3,913.5 L182.5,908.1 L182.8,902.8 L183.0,897.3 L183.3,891.9 L183.5,886.6 L183.8,881.5 L184.0,876.8 L184.2,872.2 L184.5,867.9 L184.7,863.7 L184.9,859.9 L185.2,856.4 L185.5,853.4 L185.8,850.8 L186.3,848.6 L186.7,846.7 L187.1,845.2 L187.5,844.0 L187.7,843.0 L188.5,842.9 L189.5,842.6 L190.7,842.3 L192.2,842.1 L194.2,842.0 L196.6,842.1 L199.6,842.4 L203.1,842.9 L207.1,843.5 L211.3,844.2 L215.8,844.9 L220.3,845.4 L225.3,845.9 L230.7,846.3 L236.3,846.7 L241.9,847.1 L247.0,847.5 L251.5,847.8 L254.8,848.1 L257.1,848.4 L259.0,848.6 L261.2,848.9 L264.1,849.1 L268.5,849.4 L274.7,849.6 L282.2,849.9 L290.5,850.1 L299.1,850.4 L307.6,850.7 L315.3,851.0 L322.4,851.3 L329.4,851.7 L336.2,852.2 L342.7,852.6 L348.8,853.0 L354.6,853.4 L359.9,853.6 L364.8,853.9 L369.4,854.1 L373.7,854.3 L377.6,854.6 L381.2,854.9 L384.6,855.5 L387.6,856.1 L390.3,856.8 L392.7,857.5 L394.6,858.1 L396.1,858.5" fill="none" stroke="#ee2a36" stroke-width="4.3" stroke-dasharray="10.99 8.85 0.31 9.05" stroke-linecap="round" stroke-linejoin="round"/>
<path d="M101.7,859.9 L102.6,859.4 L103.7,858.6 L105.1,857.6 L106.8,856.7 L108.8,855.8 L111.3,855.1 L114.1,854.7 L117.1,854.3 L120.5,854.0 L124.4,853.7 L129.0,853.5 L134.3,853.2 L140.4,852.8 L147.1,852.5 L154.5,852.1 L162.6,851.8 L171.4,851.4 L181.0,851.0 L192.2,850.5 L205.1,850.0 L218.7,849.5 L232.2,849.0 L244.7,848.4 L255.2,847.8 L263.8,847.2 L271.1,846.5 L277.5,845.8 L283.0,845.2 L287.8,844.5 L292.3,843.8 L296.0,843.2 L299.0,842.5 L301.3,841.9 L303.2,841.2 L304.8,840.7 L306.4,840.3 L307.8,840.0 L308.9,839.8 L309.8,839.6 L310.5,839.6 L311.1,839.5 L311.5,839.5 L311.8,840.5 L312.1,841.7 L312.5,843.3 L312.9,845.4 L313.4,848.3 L313.8,852.2 L314.2,857.5 L314.6,864.3 L315.0,871.8 L315.4,879.5 L315.7,886.7 L316.0,892.8 L316.2,897.5 L316.3,901.4 L316.4,904.7 L316.5,908.0 L316.6,911.6 L316.7,916.0 L316.9,921.5 L316.9,927.6 L317.0,934.2 L317.2,940.7 L317.6,946.8 L318.2,952.1 L319.3,956.8 L320.7,961.2 L322.4,965.3 L324.0,968.8 L325.4,971.7 L326.4,973.9 L329.4,973.8 L333.7,973.6 L338.7,973.4 L344.1,973.2 L349.5,972.9 L354.6,972.5 L359.4,972.1 L364.5,971.7 L369.5,971.2 L374.4,970.7 L378.8,970.0 L382.7,969.4 L386.1,968.5 L389.0,967.5 L391.5,966.4 L393.7,965.3 L395.4,964.4 L396.8,963.8" fill="none" stroke="#1a32f2" stroke-width="4.3" stroke-linejoin="round" stroke-linecap="round"/>
<path d="M101.7,1218.4 L103.5,1219.2 L105.9,1220.4 L108.7,1221.7 L111.9,1223.1 L115.3,1224.5 L118.8,1225.6 L122.3,1226.4 L126.2,1227.1 L130.2,1227.8 L134.4,1228.4 L138.5,1228.9 L142.5,1229.5 L146.4,1230.1 L150.5,1230.6 L154.5,1231.1 L158.4,1231.6 L162.1,1232.0 L165.5,1232.5 L168.7,1232.9 L171.8,1233.4 L174.7,1233.9 L177.3,1234.3 L179.4,1234.6 L181.0,1234.9 L181.4,1234.0 L182.0,1232.9 L182.7,1231.5 L183.4,1229.9 L184.1,1228.0 L184.7,1225.7 L185.4,1223.2 L186.1,1220.3 L186.7,1217.1 L187.4,1213.7 L188.0,1209.9 L188.5,1205.8 L188.8,1201.3 L189.1,1196.5 L189.3,1191.3 L189.5,1185.9 L189.7,1180.3 L189.9,1174.5 L190.2,1168.3 L190.4,1161.7 L190.6,1154.9 L190.9,1148.1 L191.1,1141.5 L191.4,1135.3 L191.7,1129.5 L192.1,1123.9 L192.4,1118.5 L192.8,1113.3 L193.2,1108.4 L193.6,1103.8 L194.1,1099.5 L194.7,1095.4 L195.2,1091.6 L195.8,1088.1 L196.5,1084.9 L197.4,1082.1 L198.4,1079.7 L199.6,1077.6 L200.9,1076.0 L202.2,1074.6 L203.3,1073.5 L204.0,1072.6 L204.6,1073.1 L205.2,1073.8 L206.0,1074.6 L207.1,1075.5 L208.6,1076.4 L210.7,1077.3 L213.5,1078.2 L216.9,1079.2 L220.7,1080.3 L224.8,1081.2 L228.9,1082.1 L232.9,1082.9 L236.6,1083.4 L240.0,1083.8 L243.4,1084.1 L247.3,1084.3 L251.8,1084.6 L257.4,1085.0 L264.4,1085.6 L272.4,1086.3 L281.2,1087.0 L290.3,1087.7 L299.3,1088.4 L307.8,1089.0 L316.1,1089.6 L324.4,1090.1 L332.6,1090.6 L340.5,1091.1 L347.9,1091.6 L354.6,1092.2 L360.5,1092.7 L365.9,1093.2 L370.7,1093.7 L375.1,1094.2 L379.1,1094.8 L382.7,1095.3 L386.0,1096.0 L388.8,1096.7 L391.2,1097.4 L393.2,1098.1 L394.8,1098.7 L396.1,1099.1" fill="none" stroke="#ee2a36" stroke-width="4.3" stroke-dasharray="10.98 8.84 0.30 9.05" stroke-linecap="round" stroke-linejoin="round"/>
<path d="M101.7,1099.9 L102.5,1099.4 L103.4,1098.7 L104.6,1097.9 L106.2,1097.0 L108.4,1096.1 L111.3,1095.3 L115.1,1094.6 L119.6,1093.8 L124.6,1093.0 L130.2,1092.3 L136.1,1091.6 L142.5,1091.0 L149.1,1090.5 L156.2,1090.2 L163.7,1089.9 L171.6,1089.6 L180.1,1089.3 L189.2,1088.8 L199.5,1088.2 L211.1,1087.5 L223.3,1086.7 L235.2,1085.9 L246.1,1085.0 L255.2,1084.3 L262.3,1083.5 L268.2,1082.7 L273.0,1081.9 L277.1,1081.1 L280.7,1080.3 L284.1,1079.5 L287.3,1078.6 L290.0,1077.6 L292.2,1076.5 L294.1,1075.6 L295.5,1074.7 L296.7,1074.2 L297.4,1074.5 L298.4,1074.8 L299.5,1075.3 L300.7,1076.1 L301.8,1077.7 L302.6,1080.3 L303.3,1083.9 L303.9,1088.3 L304.4,1093.5 L304.8,1099.2 L305.2,1105.3 L305.6,1111.8 L306.0,1118.7 L306.4,1126.3 L306.8,1134.3 L307.1,1142.6 L307.5,1150.8 L307.8,1158.9 L308.1,1166.9 L308.4,1175.2 L308.6,1183.4 L308.9,1191.5 L309.4,1199.0 L310.1,1205.8 L311.1,1212.0 L312.4,1217.9 L313.9,1223.2 L315.4,1228.0 L316.6,1231.9 L317.5,1234.9 L319.7,1234.4 L322.7,1233.9 L326.3,1233.2 L330.3,1232.4 L334.6,1231.6 L339.0,1230.9 L343.8,1230.1 L349.1,1229.3 L354.7,1228.5 L360.3,1227.6 L365.6,1226.9 L370.1,1226.1 L374.1,1225.5 L377.6,1225.0 L380.8,1224.5 L383.7,1224.0 L386.3,1223.5 L388.7,1223.0 L390.7,1222.3 L392.5,1221.6 L393.9,1220.8 L395.1,1220.1 L396.0,1219.5 L396.8,1219.0" fill="none" stroke="#1a32f2" stroke-width="4.3" stroke-linejoin="round" stroke-linecap="round"/>
<path d="M657.2,145.4 L628.6,115.8" fill="none" stroke="#474747" stroke-width="4.3" stroke-dasharray="13.02 10.49 0.36 10.73" stroke-linecap="round" stroke-linejoin="round"/>
<path d="M657.2,145.4 L657.7,144.8 L658.3,144.0 L659.1,143.1 L659.9,142.0 L660.8,140.9 L661.6,139.9 L662.3,138.9 L662.9,137.9 L663.5,136.8 L664.2,135.7 L665.3,134.7 L666.7,133.7 L668.6,132.7 L670.8,131.8 L673.3,130.8 L676.0,129.9 L679.0,129.0 L682.1,128.2 L685.6,127.3 L689.3,126.5 L693.3,125.6 L697.4,124.9 L701.6,124.1 L705.6,123.5 L709.4,123.0 L713.1,122.6 L716.8,122.2 L720.6,121.9 L724.6,121.5 L729.0,121.2 L733.9,120.8 L739.4,120.4 L745.0,120.0 L750.6,119.6 L755.9,119.2 L760.5,118.9 L764.5,118.5 L768.0,118.0 L771.1,117.6 L774.1,117.2 L777.1,116.9 L780.3,116.5 L783.6,116.2 L786.7,116.0 L789.9,115.7 L793.2,115.5 L796.8,115.2 L800.9,114.9 L805.5,114.6 L810.6,114.2 L816.0,113.8 L821.5,113.4 L827.0,113.0 L832.4,112.6 L837.5,112.2 L842.7,111.9 L847.8,111.6 L852.9,111.2 L858.0,110.8 L863.2,110.4 L868.6,109.9 L874.3,109.4 L880.1,108.8 L885.6,108.3 L890.5,107.7 L894.7,107.2 L897.9,106.8 L900.4,106.3 L902.3,105.9 L903.9,105.5 L905.5,105.1 L907.1,104.5 L908.9,103.9 L910.7,103.1 L912.4,102.3 L913.9,101.6 L915.4,100.8 L916.7,100.2 L917.8,99.7 L918.9,99.3 L919.8,98.9 L920.6,98.6 L921.3,98.4 L921.8,98.2" fill="none" stroke="#474747" stroke-width="4.3" stroke-dasharray="11.23 9.04 0.31 9.25" stroke-linecap="round" stroke-linejoin="round"/>
<path d="M628.6,236.3 L628.9,235.6 L629.3,234.7 L629.7,233.5 L630.4,232.3 L631.2,231.2 L632.3,230.2 L633.7,229.4 L635.3,228.7 L637.2,228.1 L639.2,227.5 L641.3,226.9 L643.3,226.3 L645.1,225.6 L646.8,225.0 L648.5,224.3 L650.5,223.7 L652.8,223.0 L655.7,222.4 L659.3,221.7 L663.3,221.0 L667.7,220.4 L672.4,219.7 L677.3,219.1 L682.1,218.6 L687.1,218.1 L692.2,217.7 L697.5,217.3 L702.9,216.9 L708.3,216.5 L713.6,216.1 L718.8,215.7 L724.0,215.2 L729.2,214.7 L734.4,214.2 L739.7,213.7 L745.1,213.3 L750.7,213.0 L756.4,212.7 L762.2,212.4 L768.1,212.1 L774.2,211.8 L780.3,211.5 L787.0,211.0 L794.1,210.5 L801.4,209.9 L808.4,209.3 L814.7,208.8 L820.0,208.3 L824.0,207.9 L827.0,207.5 L829.3,207.2 L831.3,206.9 L833.3,206.6 L835.6,206.3 L838.2,206.0 L840.8,205.7 L843.4,205.4 L846.0,205.1 L848.6,204.7 L851.2,204.4 L853.9,203.9 L856.6,203.5 L859.3,203.0 L861.9,202.5 L864.5,202.0 L866.8,201.5 L869.0,201.0 L871.1,200.6 L873.1,200.0 L875.0,199.5 L876.8,199.0 L878.5,198.5 L880.1,198.0 L881.5,197.4 L882.9,196.9 L884.2,196.4 L885.4,195.7 L886.4,195.0 L887.3,194.3 L888.0,193.4 L888.6,192.5 L889.1,191.6 L889.7,190.6 L890.3,189.5 L891.0,188.3 L891.7,186.9 L892.5,185.5 L893.2,184.2 L893.7,183.0 L894.2,182.2 L894.9,183.1 L895.9,184.3 L897.1,185.7 L898.5,187.3 L899.8,188.8 L901.0,190.1 L902.1,191.3 L903.3,192.5 L904.4,193.6 L905.5,194.7 L906.7,195.8 L907.8,196.9 L908.9,198.0 L910.1,199.1 L911.2,200.2 L912.3,201.3 L913.5,202.5 L914.6,203.7 L915.8,205.2 L917.2,206.9 L918.5,208.6 L919.7,210.2 L920.8,211.6 L921.5,212.6" fill="none" stroke="#0b8a16" stroke-width="4.3" stroke-linejoin="round" stroke-linecap="round"/>
<path d="M683.2,405.6 L682.7,404.8 L682.0,403.8 L681.1,402.6 L680.2,401.2 L679.0,399.7 L677.7,398.1 L676.2,396.2 L674.6,394.2 L672.8,392.0 L670.9,389.7 L668.9,387.5 L666.7,385.4 L664.4,383.5 L661.9,381.7 L659.3,380.0 L656.6,378.2 L654.0,376.4 L651.3,374.5 L648.6,372.5 L645.8,370.3 L642.9,368.1 L640.2,365.9 L637.7,363.9 L635.6,362.0 L633.8,360.3 L632.3,358.6 L631.1,357.1 L630.1,355.8 L629.3,354.6 L628.6,353.8" fill="none" stroke="#474747" stroke-width="4.3" stroke-dasharray="13.04 10.50 0.36 10.74" stroke-linecap="round" stroke-linejoin="round"/>
<path d="M683.2,405.6 L683.8,403.9 L684.5,401.5 L685.4,398.6 L686.4,395.7 L687.5,393.0 L688.7,390.7 L690.0,389.0 L691.4,387.5 L692.9,386.2 L694.5,385.0 L696.3,384.0 L698.2,382.9 L700.4,381.8 L702.6,380.9 L705.1,380.0 L707.7,379.1 L710.5,378.2 L713.6,377.3 L716.9,376.4 L720.3,375.5 L723.9,374.6 L727.8,373.7 L732.2,372.7 L737.1,371.8 L742.8,370.9 L749.4,369.9 L756.4,369.0 L763.4,368.1 L770.1,367.2 L775.9,366.4 L780.8,365.8 L785.0,365.2 L788.9,364.7 L792.6,364.2 L796.5,363.7 L800.9,363.2 L805.7,362.7 L810.9,362.2 L816.2,361.7 L821.6,361.2 L827.0,360.6 L832.4,360.0 L837.6,359.4 L842.9,358.8 L848.2,358.2 L853.4,357.5 L858.7,356.8 L863.9,356.1 L869.2,355.4 L874.8,354.7 L880.2,353.9 L885.5,353.2 L890.4,352.3 L894.7,351.5 L898.3,350.5 L901.4,349.6 L904.0,348.6 L906.4,347.6 L908.6,346.4 L910.8,345.2 L913.0,343.7 L915.0,341.9 L916.9,340.1 L918.6,338.3 L920.0,336.8 L921.1,335.8" fill="none" stroke="#474747" stroke-width="4.3" stroke-dasharray="10.61 8.55 0.29 8.75" stroke-linecap="round" stroke-linejoin="round"/>
<path d="M628.6,486.2 L629.1,485.5 L629.8,484.5 L630.6,483.4 L631.5,482.2 L632.6,481.0 L633.7,479.9 L635.0,479.0 L636.4,478.0 L637.9,477.1 L639.5,476.2 L641.3,475.4 L643.3,474.5 L645.4,473.7 L647.7,472.8 L650.1,472.0 L652.7,471.2 L655.6,470.5 L658.7,469.7 L662.0,469.0 L665.6,468.4 L669.4,467.7 L673.4,467.1 L677.6,466.4 L682.1,465.8 L686.9,465.1 L692.0,464.5 L697.4,463.8 L702.8,463.1 L708.3,462.5 L713.6,461.9 L718.7,461.3 L723.6,460.8 L728.6,460.3 L733.7,459.8 L739.1,459.3 L745.1,458.8 L752.2,458.2 L760.1,457.6 L768.4,457.0 L776.6,456.4 L784.0,455.8 L790.0,455.2 L794.5,454.7 L797.9,454.2 L800.5,453.7 L802.7,453.2 L805.0,452.7 L807.6,452.2 L810.6,451.6 L813.6,451.1 L816.6,450.5 L819.6,449.9 L822.4,449.3 L825.1,448.7 L827.6,448.2 L829.8,447.7 L832.0,447.3 L834.1,446.8 L836.2,446.3 L838.3,445.7 L840.6,445.0 L842.9,444.4 L845.2,443.7 L847.4,442.9 L849.6,442.1 L851.5,441.3 L853.3,440.4 L854.9,439.4 L856.4,438.4 L857.8,437.4 L859.1,436.3 L860.2,435.1 L861.2,433.9 L862.1,432.6 L862.8,431.2 L863.4,429.8 L864.0,428.4 L864.6,427.2 L865.2,425.9 L865.7,424.6 L866.1,423.4 L866.5,422.2 L866.9,421.1 L867.3,420.2 L867.7,419.2 L868.0,418.1 L868.3,417.2 L868.6,416.5 L869.0,416.1 L869.5,416.2 L870.3,417.1 L871.4,418.6 L872.5,420.5 L873.5,422.4 L874.5,424.1 L875.1,425.2 L875.7,426.1 L876.5,427.4 L877.5,428.9 L878.6,430.6 L879.9,432.4 L881.3,434.0 L882.8,435.7 L884.5,437.4 L886.4,439.2 L888.4,441.1 L890.5,442.8 L892.7,444.6 L895.2,446.3 L897.9,448.0 L900.8,449.7 L903.7,451.3 L906.3,452.9 L908.5,454.3 L910.3,455.5 L911.8,456.5 L913.1,457.5 L914.2,458.4 L915.3,459.4 L916.4,460.4 L917.5,461.6 L918.5,462.9 L919.5,464.3 L920.4,465.6 L921.2,466.6 L921.7,467.4" fill="none" stroke="#0b8a16" stroke-width="4.3" stroke-linejoin="round" stroke-linecap="round"/>
<path d="M698.2,668.0 L697.7,667.1 L697.0,665.9 L696.1,664.5 L695.2,662.9 L694.1,661.2 L693.1,659.3 L692.1,657.3 L691.3,655.1 L690.3,652.8 L689.2,650.3 L687.7,647.8 L685.8,645.2 L683.3,642.5 L680.5,639.6 L677.3,636.6 L673.8,633.7 L670.3,630.8 L666.7,628.0 L662.9,625.4 L658.6,622.8 L654.3,620.2 L650.0,617.8 L646.3,615.7 L643.3,613.8 L641.1,612.5 L639.6,611.6 L638.6,611.0 L637.8,610.4 L637.0,609.6 L635.9,608.4 L634.6,606.7 L633.2,604.6 L631.8,602.2 L630.5,600.0 L629.4,598.0 L628.6,596.7" fill="none" stroke="#474747" stroke-width="4.3" stroke-dasharray="12.06 9.71 0.33 9.94" stroke-linecap="round" stroke-linejoin="round"/>
<path d="M698.2,668.0 L698.6,666.2 L699.1,663.6 L699.7,660.5 L700.5,657.3 L701.5,654.2 L702.6,651.5 L703.9,649.1 L705.3,647.0 L706.9,644.9 L708.8,642.9 L711.0,641.0 L713.6,639.0 L716.6,636.9 L719.8,634.9 L723.3,632.8 L727.3,630.8 L731.9,629.0 L737.1,627.2 L743.4,625.5 L750.9,623.9 L758.9,622.4 L766.9,621.0 L774.2,619.7 L780.3,618.6 L784.9,617.8 L788.4,617.2 L791.3,616.8 L794.0,616.5 L797.1,616.0 L800.9,615.4 L805.5,614.6 L810.6,613.7 L816.0,612.8 L821.5,611.8 L827.0,610.8 L832.4,609.9 L837.5,609.1 L842.7,608.4 L847.8,607.6 L852.9,606.9 L858.0,606.1 L863.2,605.3 L868.5,604.3 L874.2,603.3 L879.8,602.3 L885.3,601.2 L890.3,600.1 L894.7,599.0 L898.3,597.9 L901.4,596.8 L904.1,595.8 L906.4,594.6 L908.6,593.4 L910.8,592.0 L913.0,590.4 L915.0,588.4 L916.9,586.4 L918.6,584.5 L920.0,582.9 L921.1,581.7" fill="none" stroke="#474747" stroke-width="4.3" stroke-dasharray="10.35 8.34 0.29 8.53" stroke-linecap="round" stroke-linejoin="round"/>
<path d="M628.6,739.3 L629.1,738.5 L629.8,737.2 L630.6,735.8 L631.5,734.2 L632.6,732.8 L633.7,731.5 L634.9,730.5 L636.1,729.5 L637.4,728.7 L638.9,727.8 L640.8,727.0 L643.3,726.0 L646.3,724.9 L649.7,723.7 L653.6,722.4 L657.8,721.2 L662.2,720.0 L666.7,718.9 L671.4,717.9 L676.4,716.9 L681.5,716.1 L686.9,715.2 L692.5,714.4 L698.2,713.5 L704.2,712.6 L710.5,711.7 L716.9,710.8 L723.6,709.9 L730.3,708.9 L737.1,708.0 L744.3,706.9 L752.0,705.8 L759.8,704.6 L767.4,703.4 L774.2,702.4 L780.0,701.5 L784.4,700.7 L787.7,700.1 L790.4,699.5 L792.7,699.0 L795.0,698.5 L797.6,697.9 L800.6,697.2 L803.6,696.5 L806.6,695.8 L809.6,695.1 L812.4,694.3 L815.1,693.6 L817.6,692.9 L820.0,692.2 L822.2,691.5 L824.4,690.7 L826.4,690.0 L828.3,689.2 L830.0,688.4 L831.6,687.6 L833.1,686.7 L834.4,685.9 L835.8,684.9 L837.1,683.9 L838.4,682.9 L839.6,681.8 L840.9,680.7 L842.0,679.5 L843.1,678.2 L844.1,677.0 L845.0,675.6 L845.8,674.1 L846.6,672.7 L847.3,671.1 L847.9,669.6 L848.5,668.1 L849.0,666.6 L849.5,665.1 L849.9,663.6 L850.3,662.1 L850.7,660.7 L851.1,659.3 L851.5,657.9 L852.0,656.5 L852.5,655.1 L853.0,653.9 L853.4,652.8 L853.7,652.1 L854.2,653.3 L854.9,655.1 L855.8,657.1 L856.7,659.3 L857.6,661.5 L858.4,663.5 L859.1,665.3 L859.8,667.1 L860.4,668.8 L861.1,670.5 L861.9,672.3 L862.8,674.0 L863.9,675.8 L865.1,677.6 L866.5,679.4 L867.9,681.2 L869.3,682.9 L870.7,684.4 L872.1,685.8 L873.4,687.0 L874.8,688.1 L876.2,689.2 L877.8,690.3 L879.5,691.5 L881.5,692.8 L883.6,694.2 L885.8,695.6 L888.1,697.0 L890.5,698.3 L892.7,699.5 L894.9,700.6 L897.2,701.6 L899.4,702.6 L901.6,703.5 L903.8,704.5 L905.8,705.5 L907.8,706.6 L909.7,707.7 L911.6,708.8 L913.3,710.0 L914.9,711.2 L916.4,712.5 L917.6,714.0 L918.7,715.8 L919.7,717.6 L920.5,719.3 L921.2,720.8 L921.7,721.8" fill="none" stroke="#0b8a16" stroke-width="4.3" stroke-linejoin="round" stroke-linecap="round"/>
<path d="M709.2,928.3 L708.7,927.2 L708.1,925.7 L707.3,924.0 L706.3,921.9 L705.3,919.7 L704.1,917.3 L702.8,914.5 L701.2,911.3 L699.6,907.9 L697.9,904.5 L696.2,901.3 L694.6,898.5 L693.2,896.2 L692.0,894.3 L690.8,892.6 L689.4,891.0 L687.8,889.3 L685.8,887.5 L683.2,885.5 L680.3,883.4 L677.2,881.3 L673.8,879.2 L670.3,877.1 L666.7,875.0 L662.9,872.9 L658.7,870.7 L654.4,868.5 L650.2,866.4 L646.4,864.4 L643.3,862.5 L640.8,860.8 L638.9,859.2 L637.4,857.7 L636.1,856.2 L634.9,854.7 L633.7,853.0 L632.6,851.2 L631.5,849.1 L630.6,846.9 L629.8,844.9 L629.1,843.2 L628.6,842.0" fill="none" stroke="#474747" stroke-width="4.3" stroke-dasharray="11.00 8.86 0.31 9.07" stroke-linecap="round" stroke-linejoin="round"/>
<path d="M709.2,928.3 L709.7,927.0 L710.2,925.2 L710.9,923.1 L711.7,920.7 L712.6,918.2 L713.6,915.7 L714.7,913.0 L715.8,910.1 L717.0,907.1 L718.3,904.1 L719.9,901.2 L721.7,898.5 L723.7,896.1 L726.0,893.9 L728.4,891.7 L731.1,889.7 L734.0,887.8 L737.1,885.9 L740.6,884.1 L744.4,882.4 L748.5,880.7 L752.7,879.2 L756.7,877.8 L760.5,876.5 L764.0,875.3 L767.4,874.3 L770.6,873.3 L773.8,872.5 L777.0,871.7 L780.3,870.9 L783.5,870.2 L786.4,869.6 L789.4,869.1 L792.6,868.5 L796.3,867.9 L800.9,867.1 L806.5,866.2 L813.3,865.2 L820.5,864.0 L827.8,862.9 L834.6,861.8 L840.4,860.9 L845.1,860.1 L848.9,859.5 L852.3,859.0 L855.6,858.4 L859.1,857.8 L863.2,856.8 L868.0,855.7 L873.5,854.4 L879.1,852.9 L884.8,851.4 L890.0,849.8 L894.7,848.3 L898.7,846.8 L902.4,845.2 L905.7,843.7 L908.7,842.1 L911.4,840.5 L913.7,838.8 L915.7,837.0 L917.3,834.9 L918.6,832.8 L919.6,830.8 L920.4,829.1 L921.1,827.9" fill="none" stroke="#474747" stroke-width="4.3" stroke-dasharray="10.22 8.23 0.28 8.42" stroke-linecap="round" stroke-linejoin="round"/>
<path d="M628.6,996.4 L628.9,995.3 L629.3,993.7 L629.7,991.9 L630.4,989.9 L631.2,988.0 L632.3,986.3 L633.5,984.7 L634.9,983.3 L636.5,981.8 L638.4,980.4 L640.6,979.1 L643.3,977.7 L646.2,976.4 L649.4,975.1 L653.0,973.8 L657.0,972.5 L661.6,971.2 L666.7,969.8 L672.8,968.4 L679.7,966.9 L687.2,965.4 L694.8,963.9 L702.3,962.4 L709.2,961.1 L715.8,960.0 L722.5,958.8 L728.9,957.8 L735.0,956.8 L740.5,956.0 L745.1,955.1 L748.8,954.5 L751.5,953.9 L753.6,953.4 L755.5,953.0 L757.5,952.4 L760.0,951.8 L763.0,951.1 L766.2,950.3 L769.5,949.5 L772.9,948.6 L776.2,947.8 L779.5,946.9 L782.8,946.1 L786.2,945.3 L789.6,944.5 L792.9,943.7 L796.1,943.0 L799.0,942.1 L801.8,941.3 L804.4,940.6 L807.0,939.8 L809.3,939.0 L811.6,938.1 L813.7,937.2 L815.6,936.3 L817.4,935.4 L819.1,934.4 L820.6,933.4 L822.0,932.4 L823.4,931.4 L824.8,930.3 L826.0,929.2 L827.2,928.0 L828.2,926.9 L829.2,925.7 L830.2,924.5 L831.0,923.3 L831.7,922.1 L832.4,920.9 L833.0,919.6 L833.6,918.3 L834.1,916.8 L834.7,915.1 L835.2,913.4 L835.7,911.5 L836.2,909.6 L836.7,907.8 L837.1,906.0 L837.6,904.3 L838.1,902.5 L838.6,900.8 L839.1,899.2 L839.5,897.7 L840.0,896.3 L840.5,895.1 L841.0,894.0 L841.5,893.1 L842.0,892.2 L842.4,891.6 L842.6,891.0 L843.2,892.5 L844.0,894.5 L844.9,896.9 L845.9,899.4 L846.9,902.1 L847.8,904.5 L848.5,906.9 L849.2,909.5 L849.8,912.0 L850.5,914.6 L851.3,916.9 L852.2,919.1 L853.2,921.0 L854.3,922.8 L855.5,924.4 L856.8,925.9 L858.1,927.4 L859.5,928.9 L860.9,930.4 L862.3,931.9 L863.8,933.4 L865.4,934.8 L867.1,936.3 L869.0,937.7 L871.2,939.2 L873.5,940.7 L876.0,942.1 L878.6,943.6 L881.2,945.0 L883.7,946.4 L886.1,947.8 L888.6,949.1 L891.0,950.4 L893.5,951.6 L895.9,952.9 L898.3,954.3 L900.9,955.7 L903.6,957.3 L906.3,958.9 L908.9,960.4 L911.1,961.9 L913.0,963.1 L914.4,964.1 L915.4,964.8 L916.1,965.5 L916.7,966.1 L917.2,966.9 L917.8,968.0 L918.4,969.5 L919.1,971.4 L919.7,973.4 L920.3,975.3 L920.7,977.0 L921.1,978.2" fill="none" stroke="#0b8a16" stroke-width="4.3" stroke-linejoin="round" stroke-linecap="round"/>
<path d="M718.0,1191.5 L717.6,1190.6 L717.0,1189.4 L716.3,1187.9 L715.5,1186.1 L714.6,1183.9 L713.6,1181.3 L712.6,1178.1 L711.5,1174.3 L710.3,1170.2 L708.9,1165.9 L707.4,1161.7 L705.6,1157.8 L703.5,1154.1 L701.3,1150.5 L698.8,1147.0 L696.2,1143.6 L693.3,1140.4 L690.2,1137.4 L686.7,1134.7 L683.0,1132.2 L678.9,1129.9 L674.8,1127.7 L670.7,1125.5 L666.7,1123.3 L662.6,1121.0 L658.4,1118.7 L654.1,1116.4 L650.0,1114.1 L646.4,1112.0 L643.3,1109.9 L640.8,1108.0 L638.9,1106.3 L637.4,1104.7 L636.1,1103.1 L634.9,1101.4 L633.7,1099.7 L632.6,1097.8 L631.5,1095.7 L630.6,1093.6 L629.8,1091.7 L629.1,1090.0 L628.6,1088.8" fill="none" stroke="#474747" stroke-width="4.3" stroke-dasharray="10.31 8.31 0.29 8.50" stroke-linecap="round" stroke-linejoin="round"/>
<path d="M718.0,1191.5 L718.6,1189.5 L719.3,1186.7 L720.2,1183.4 L721.2,1179.9 L722.2,1176.4 L723.2,1173.4 L724.0,1170.6 L724.7,1168.0 L725.4,1165.5 L726.3,1163.0 L727.4,1160.4 L729.0,1157.8 L731.0,1154.9 L733.3,1152.0 L735.9,1148.9 L738.7,1146.0 L741.8,1143.2 L745.1,1140.6 L748.7,1138.3 L752.6,1136.1 L756.7,1134.1 L761.0,1132.2 L765.5,1130.4 L770.1,1128.8 L774.9,1127.4 L779.9,1126.2 L785.0,1125.1 L790.3,1124.0 L795.6,1122.9 L800.9,1121.7 L806.1,1120.3 L811.3,1118.9 L816.6,1117.4 L821.9,1115.9 L827.2,1114.4 L832.4,1113.1 L837.5,1112.0 L842.7,1110.9 L847.8,1110.0 L852.9,1109.0 L858.0,1108.0 L863.2,1106.9 L868.5,1105.5 L874.2,1104.1 L879.8,1102.7 L885.3,1101.2 L890.3,1099.7 L894.7,1098.3 L898.3,1097.0 L901.5,1095.8 L904.2,1094.7 L906.5,1093.5 L908.7,1092.1 L910.8,1090.4 L912.8,1088.3 L914.6,1085.7 L916.2,1082.9 L917.6,1080.2 L918.7,1077.9 L919.6,1076.3" fill="none" stroke="#474747" stroke-width="4.3" stroke-dasharray="10.24 8.25 0.28 8.44" stroke-linecap="round" stroke-linejoin="round"/>
<path d="M628.6,1248.6 L629.1,1247.5 L629.8,1246.1 L630.6,1244.4 L631.5,1242.6 L632.6,1240.8 L633.7,1239.2 L634.9,1237.9 L636.1,1236.6 L637.4,1235.3 L638.9,1234.1 L640.8,1232.8 L643.3,1231.4 L646.1,1229.9 L649.2,1228.4 L652.7,1226.9 L656.6,1225.3 L661.3,1223.6 L666.7,1221.9 L673.4,1220.1 L681.4,1218.2 L690.0,1216.2 L698.6,1214.3 L706.7,1212.5 L713.6,1211.0 L719.3,1209.8 L724.1,1208.8 L728.4,1208.0 L732.3,1207.2 L736.1,1206.4 L740.0,1205.5 L743.9,1204.5 L747.5,1203.4 L751.1,1202.4 L754.5,1201.3 L758.0,1200.2 L761.5,1199.1 L765.1,1198.0 L768.8,1196.9 L772.5,1195.8 L776.2,1194.7 L779.6,1193.6 L782.9,1192.6 L785.9,1191.7 L788.7,1191.0 L791.3,1190.2 L793.8,1189.5 L796.4,1188.5 L799.0,1187.3 L801.8,1185.8 L804.7,1184.1 L807.6,1182.1 L810.4,1180.2 L813.0,1178.3 L815.1,1176.5 L816.7,1175.0 L818.0,1173.6 L819.1,1172.2 L819.9,1170.8 L820.7,1169.4 L821.6,1168.0 L822.4,1166.5 L823.2,1165.0 L823.9,1163.6 L824.6,1162.0 L825.2,1160.3 L825.9,1158.3 L826.6,1155.9 L827.4,1153.2 L828.1,1150.4 L828.8,1147.5 L829.5,1144.7 L830.1,1142.2 L830.7,1139.8 L831.4,1137.5 L832.0,1135.3 L832.6,1133.3 L833.1,1131.6 L833.4,1130.4 L834.0,1131.6 L834.7,1133.2 L835.6,1135.1 L836.6,1137.3 L837.7,1139.7 L838.7,1142.2 L839.7,1145.1 L840.8,1148.4 L842.0,1151.9 L843.1,1155.4 L844.2,1158.7 L845.2,1161.4 L846.1,1163.7 L846.8,1165.6 L847.5,1167.3 L848.2,1168.8 L849.0,1170.3 L850.0,1171.9 L851.1,1173.5 L852.2,1175.1 L853.5,1176.6 L854.8,1178.2 L856.2,1179.7 L857.8,1181.3 L859.5,1183.0 L861.3,1184.7 L863.2,1186.4 L865.2,1188.2 L867.3,1189.9 L869.5,1191.5 L871.9,1193.1 L874.5,1194.7 L877.1,1196.3 L879.8,1197.8 L882.5,1199.3 L885.1,1200.8 L887.8,1202.3 L890.5,1203.8 L893.2,1205.3 L895.8,1206.8 L898.3,1208.2 L900.7,1209.5 L902.9,1210.8 L905.1,1212.0 L907.2,1213.2 L909.1,1214.3 L910.9,1215.4 L912.5,1216.7 L913.9,1217.9 L915.1,1219.2 L916.2,1220.5 L917.1,1221.8 L918.0,1223.2 L918.7,1224.5 L919.4,1226.0 L919.9,1227.6 L920.3,1229.2 L920.6,1230.8 L920.9,1232.0 L921.1,1233.0" fill="none" stroke="#0b8a16" stroke-width="4.3" stroke-linejoin="round" stroke-linecap="round"/>
<g font-family='"Liberation Sans", sans-serif' font-size="27.5" fill="#000" stroke="#000" stroke-width="0.4">
<text x="80.0" y="90.6" text-anchor="end">4</text>
<text x="80.0" y="130.2" text-anchor="end">2</text>
<text x="80.0" y="169.8" text-anchor="end">0</text>
<text x="80.0" y="209.3" text-anchor="end">-2</text>
<text x="80.0" y="248.9" text-anchor="end">-4</text>
<text x="606.0" y="74.0" text-anchor="end">80</text>
<text x="606.0" y="123.0" text-anchor="end">40</text>
<text x="606.0" y="172.0" text-anchor="end">0</text>
<text x="606.0" y="221.0" text-anchor="end">-40</text>
<text x="606.0" y="270.0" text-anchor="end">-80</text>
<text x="80.0" y="336.9" text-anchor="end">4</text>
<text x="80.0" y="376.4" text-anchor="end">2</text>
<text x="80.0" y="415.9" text-anchor="end">0</text>
<text x="80.0" y="455.4" text-anchor="end">-2</text>
<text x="80.0" y="494.9" text-anchor="end">-4</text>
<text x="606.0" y="321.0" text-anchor="end">80</text>
<text x="606.0" y="370.1" text-anchor="end">40</text>
<text x="606.0" y="419.2" text-anchor="end">0</text>
<text x="606.0" y="468.2" text-anchor="end">-40</text>
<text x="606.0" y="517.3" text-anchor="end">-80</text>
<text x="80.0" y="592.7" text-anchor="end">4</text>
<text x="80.0" y="632.3" text-anchor="end">2</text>
<text x="80.0" y="671.9" text-anchor="end">0</text>
<text x="80.0" y="711.5" text-anchor="end">-2</text>
<text x="80.0" y="751.1" text-anchor="end">-4</text>
<text x="606.0" y="570.3" text-anchor="end">80</text>
<text x="606.0" y="619.3" text-anchor="end">40</text>
<text x="606.0" y="668.4" text-anchor="end">0</text>
<text x="606.0" y="717.4" text-anchor="end">-40</text>
<text x="606.0" y="766.4" text-anchor="end">-80</text>
<text x="80.0" y="840.7" text-anchor="end">4</text>
<text x="80.0" y="880.4" text-anchor="end">2</text>
<text x="80.0" y="920.1" text-anchor="end">0</text>
<text x="80.0" y="959.7" text-anchor="end">-2</text>
<text x="80.0" y="999.4" text-anchor="end">-4</text>
<text x="606.0" y="820.3" text-anchor="end">80</text>
<text x="606.0" y="869.3" text-anchor="end">40</text>
<text x="606.0" y="918.4" text-anchor="end">0</text>
<text x="606.0" y="967.4" text-anchor="end">-40</text>
<text x="606.0" y="1016.4" text-anchor="end">-80</text>
<text x="80.0" y="1088.1" text-anchor="end">4</text>
<text x="80.0" y="1127.7" text-anchor="end">2</text>
<text x="80.0" y="1167.2" text-anchor="end">0</text>
<text x="80.0" y="1206.8" text-anchor="end">-2</text>
<text x="80.0" y="1246.4" text-anchor="end">-4</text>
<text x="606.0" y="1071.0" text-anchor="end">80</text>
<text x="606.0" y="1120.1" text-anchor="end">40</text>
<text x="606.0" y="1169.1" text-anchor="end">0</text>
<text x="606.0" y="1218.2" text-anchor="end">-40</text>
<text x="606.0" y="1267.3" text-anchor="end">-80</text>
<text x="101.7" y="1304.2" text-anchor="middle">0</text>
<text x="628.6" y="1304.8" text-anchor="middle">0</text>
<text x="175.9" y="1304.2" text-anchor="middle">1</text>
<text x="701.9" y="1304.8" text-anchor="middle">1</text>
<text x="250.0" y="1304.2" text-anchor="middle">2</text>
<text x="775.2" y="1304.8" text-anchor="middle">2</text>
<text x="324.2" y="1304.2" text-anchor="middle">3</text>
<text x="848.5" y="1304.8" text-anchor="middle">3</text>
<text x="398.3" y="1304.2" text-anchor="middle">4</text>
<text x="921.8" y="1304.8" text-anchor="middle">4</text>
</g>
<g font-family='"Liberation Serif", serif' fill="#000" stroke="#000" stroke-width="0.35">
<text x="250.0" y="1351.0" font-size="34" text-anchor="middle">Width (mm)</text>
<text x="775.8" y="1351.3" font-size="34" text-anchor="middle">Width (mm)</text>
<g stroke-width="0.1">
<text x="380.7" y="160.7" font-size="27.8"><tspan font-size="30" font-style="italic">I</tspan><tspan font-size="18.5" dx="-0.6" dy="8">c0</tspan><tspan dy="-8"> = 80</tspan><tspan dx="2.5"> A</tspan></text>
<text x="913.4" y="174.0" font-size="27.8"><tspan font-size="30" font-style="italic">I</tspan><tspan font-size="18.5" dx="-0.6" dy="8">c0</tspan><tspan dy="-8"> = 80</tspan><tspan dx="2.5"> A</tspan></text>
<text x="367.2" y="416.4" font-size="27.8"><tspan font-size="30" font-style="italic">I</tspan><tspan font-size="18.5" dx="-0.6" dy="8">c0</tspan><tspan dy="-8"> = 100</tspan><tspan dx="2.5"> A</tspan></text>
<text x="897.2" y="422.2" font-size="27.8"><tspan font-size="30" font-style="italic">I</tspan><tspan font-size="18.5" dx="-0.6" dy="8">c0</tspan><tspan dy="-8"> = 100</tspan><tspan dx="2.5"> A</tspan></text>
<text x="361.9" y="671.5" font-size="27.8"><tspan font-size="30" font-style="italic">I</tspan><tspan font-size="18.5" dx="-0.6" dy="8">c0</tspan><tspan dy="-8"> = 120</tspan><tspan dx="2.5"> A</tspan></text>
<text x="891.5" y="670.4" font-size="27.8"><tspan font-size="30" font-style="italic">I</tspan><tspan font-size="18.5" dx="-0.6" dy="8">c0</tspan><tspan dy="-8"> = 120</tspan><tspan dx="2.5"> A</tspan></text>
<text x="359.7" y="921.0" font-size="27.8"><tspan font-size="30" font-style="italic">I</tspan><tspan font-size="18.5" dx="-0.6" dy="8">c0</tspan><tspan dy="-8"> = 140</tspan><tspan dx="2.5"> A</tspan></text>
<text x="890.1" y="921.1" font-size="27.8"><tspan font-size="30" font-style="italic">I</tspan><tspan font-size="18.5" dx="-0.6" dy="8">c0</tspan><tspan dy="-8"> = 140</tspan><tspan dx="2.5"> A</tspan></text>
<text x="357.0" y="1168.7" font-size="27.8"><tspan font-size="30" font-style="italic">I</tspan><tspan font-size="18.5" dx="-0.6" dy="8">c0</tspan><tspan dy="-8"> = 160</tspan><tspan dx="2.5"> A</tspan></text>
<text x="886.8" y="1171.8" font-size="27.8"><tspan font-size="30" font-style="italic">I</tspan><tspan font-size="18.5" dx="-0.6" dy="8">c0</tspan><tspan dy="-8"> = 160</tspan><tspan dx="2.5"> A</tspan></text>
</g>
<text transform="translate(31.6,663) rotate(-90)" font-size="35.5" text-anchor="middle"><tspan font-style="italic">J</tspan> profile (10<tspan font-size="21" dy="-13">10</tspan><tspan dy="13">A/m</tspan><tspan font-size="21" dy="-13">2</tspan><tspan dy="13">)</tspan></text>
<text transform="translate(542.8,662) rotate(-90)" font-size="35" text-anchor="middle"><tspan font-style="italic">B</tspan> profile (mT)</text>
<g stroke-width="0.15">
<line x1="78.0" y1="11.7" x2="146.8" y2="11.7" stroke="#ee2a36" stroke-width="4.3" stroke-dasharray="10.8 8.7 0.3 8.9" stroke-linecap="round"/><text x="155.5" y="22.0" font-size="34">+</text><text x="180.0" y="21.5" font-size="30" font-style="italic">B</text><text x="199.5" y="29.7" font-size="21">peak</text>
<line x1="263.0" y1="11.5" x2="337.5" y2="11.5" stroke="#1a32f2" stroke-width="4.4" stroke-linecap="round"/><text x="344.0" y="21.5" font-size="30">-</text><text x="360.5" y="21.5" font-size="30" font-style="italic">B</text><text x="380.0" y="29.7" font-size="21">peak</text>
<line x1="604.1" y1="13.0" x2="673.5" y2="13.0" stroke="#474747" stroke-width="4.3" stroke-dasharray="10.8 8.7 0.3 8.9" stroke-linecap="round"/><text x="680.5" y="23.7" font-size="34">+</text><text x="706.3" y="23.2" font-size="30" font-style="italic">B</text><text x="725.8" y="31.4" font-size="21">peak</text>
<line x1="788.5" y1="12.9" x2="863.0" y2="12.9" stroke="#0b8a16" stroke-width="4.4" stroke-linecap="round"/><text x="869.5" y="23.2" font-size="30">-</text><text x="887.2" y="23.2" font-size="30" font-style="italic">B</text><text x="906.7" y="31.4" font-size="21">peak</text>
</g>
</g>
</svg>
</body></html>
